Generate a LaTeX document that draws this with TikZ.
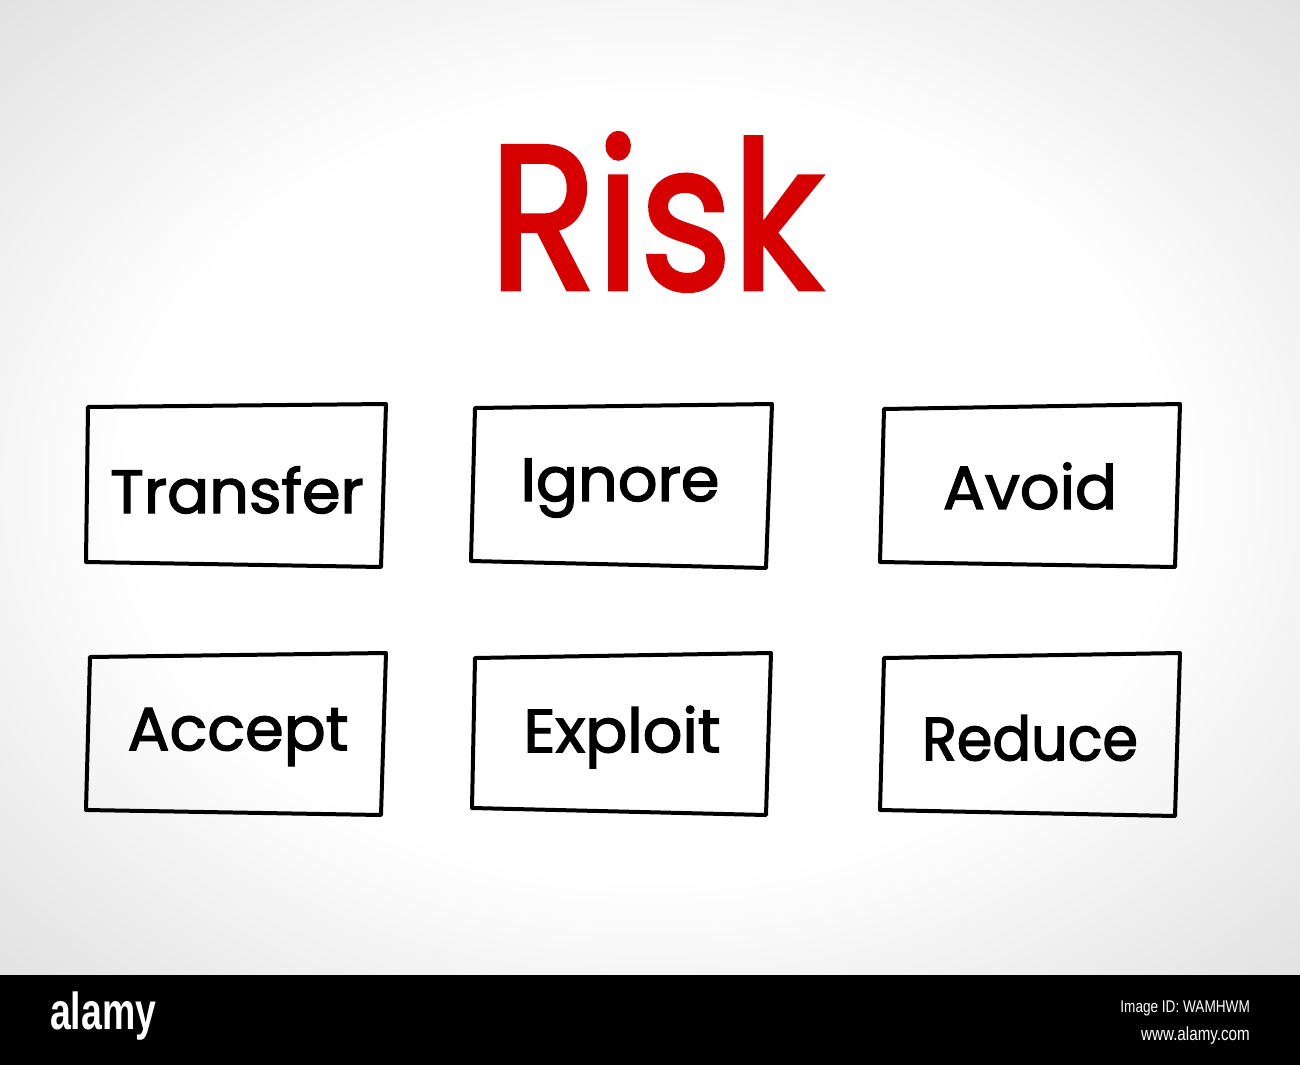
\documentclass[tikz,border=0pt]{standalone}
\usepackage{fontspec}
\setmainfont{Poppins}
\newfontfamily\semifont{Poppins}[FakeBold=2.2]
\newfontfamily\barfont{Liberation Sans}
\definecolor{riskred}{RGB}{214,0,0}
\pgfdeclareradialshading{bgshade}{\pgfpoint{0bp}{0bp}}{color(0bp)=(white); color(20bp)=(white); color(36bp)=(black!12); color(50bp)=(black!28)}
\tikzset{
  handbox/.style={draw=black, line width=4pt, line join=round, line cap=round},
  word/.style={font=\semifont\fontsize{61}{61}\selectfont, text=black, inner sep=0pt, xscale=1.02},
}
\begin{document}
\begin{tikzpicture}[x=1pt,y=-1pt]
\useasboundingbox (0,0) rectangle (1300,1065);
\shade[shading=bgshade] (0,0) rectangle (1300,975);
\fill[black] (0,975) rectangle (1300,1065);
% title
\node[text=riskred, font=\semifont\fontsize{205}{205}\selectfont, inner sep=0pt, xscale=0.86] (risk) at (656,212) {Risk};
% boxes
\draw[handbox] (88,407) -- (386,404) -- (381,567) -- (86,562) -- cycle;
\draw[handbox] (475,408) -- (772,404) -- (766,568) -- (471,561) -- cycle;
\draw[handbox] (884,409) -- (1180,404) -- (1175,567) -- (880,562) -- cycle;
\draw[handbox] (90,657) -- (386,653) -- (381,815) -- (86,810) -- cycle;
\draw[handbox] (475,658) -- (771,653) -- (766,815) -- (472,808) -- cycle;
\draw[handbox] (884,658) -- (1180,653) -- (1175,816) -- (880,810) -- cycle;
% words
\node[word] (transfer) at (237,490) {Transfer};
\node[word] (ignore) at (620,488) {Ignore};
\node[word] (avoid) at (1030,486) {Avoid};
\node[word] (accept) at (238,737) {Accept};
\node[word] (exploit) at (622,737) {Exploit};
\node[word, xscale=0.92] (reduce) at (1030,738) {Reduce};
% bottom bar
\node[text=white, font=\barfont\bfseries\fontsize{52}{52}\selectfont, inner sep=0pt, xscale=0.72, anchor=west] (alamy) at (50,1016) {alamy};
\node[text=white, font=\barfont\fontsize{17}{17}\selectfont, inner sep=0pt, xscale=0.8, anchor=east] (imgid) at (1250,1008) {Image ID: WAMHWM};
\node[text=white, font=\barfont\fontsize{19}{19}\selectfont, inner sep=0pt, xscale=0.8, anchor=east] (www) at (1250,1036) {www.alamy.com};
\end{tikzpicture}
\end{document}
